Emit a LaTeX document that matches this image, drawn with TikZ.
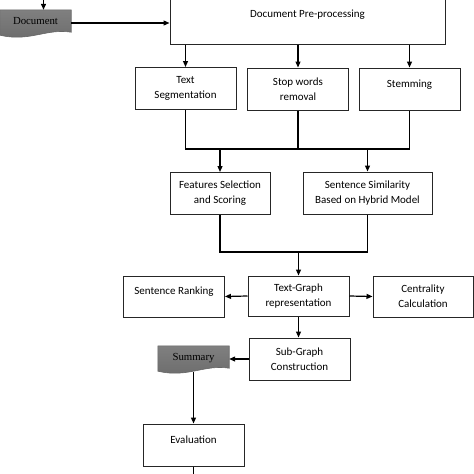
\documentclass[tikz,border=0pt]{standalone}
\usepackage{fontspec}
\setmainfont{Carlito}
\newfontfamily\paperfont{Liberation Serif}
\usetikzlibrary{calc, arrows.meta, backgrounds}

\tikzset{
  stepbox/.style={draw=black!85, line width=1pt, fill=white, minimum width=101pt,
    minimum height=42pt, align=center, inner sep=2pt,
    font=\fontsize{11}{15}\selectfont},
  oneline/.style={text depth=11pt},
  paper/.style={minimum width=71pt, minimum height=26pt, inner sep=0pt,
    text depth=4pt, font=\paperfont\fontsize{10.8}{12}\selectfont},
  papershade/.style={draw=black!60, line width=0.6pt, top color=black!50,
    middle color=black!32, bottom color=black!58},
  flow/.style={-{Triangle[length=6pt,width=5pt]}, line width=1.2pt},
  bus/.style={line width=1.2pt}
}

\begin{document}
\begin{tikzpicture}[x=1pt, y=-1pt]
  \useasboundingbox (0,0) rectangle (474,474);

  % boxes
  \node[stepbox, minimum width=275pt, minimum height=58pt] (pre) at (307.5,15) {Document Pre-processing};
  \node[stepbox] (seg) at (185.5,88.5) {Text\\Segmentation};
  \node[stepbox] (stop) at (298,89) {Stop words\\removal};
  \node[stepbox, oneline] (stem) at (409.5,89) {Stemming};
  \node[stepbox, minimum width=100pt] (feat) at (220,193.5) {Features Selection\\and Scoring};
  \node[stepbox, minimum width=129pt] (sim) at (367.5,193) {Sentence Similarity\\Based on Hybrid Model};
  \node[stepbox, minimum height=40pt] (graph) at (298.5,296) {Text-Graph\\representation};
  \node[stepbox, oneline, minimum height=41pt] (rank) at (174,296.5) {Sentence Ranking};
  \node[stepbox, minimum width=100pt, minimum height=41pt] (cent) at (423,296.5) {Centrality\\Calculation};
  \node[stepbox] (sub) at (299.5,359) {Sub-Graph\\Construction};
  \node[stepbox, oneline] (eval) at (193.5,445) {Evaluation};

  % paper shapes
  \node[paper] (doc) at (35.5,23) {Document};
  \node[paper] (summ) at (193.5,359) {Summary};
  \begin{scope}[on background layer]
    \foreach \p in {doc, summ}
      \path[papershade] (\p.north west) -- (\p.north east)
        -- ($(\p.south east)+(0,-4)$)
        .. controls ($(\p.south east)+(-25,-8)$) and ($(\p.south west)+(30,6)$)
        .. ($(\p.south west)+(0,-1)$) -- cycle;
  \end{scope}

  \coordinate (in) at (43.5,-5);
  \coordinate (out) at (193.5,480);
  \coordinate (bus1) at (297,149);
  \coordinate (bus2) at (297,252);

  % connectors
  \draw[flow] (in) -- (in |- doc.north);
  \draw[flow] (doc.east) -- (doc.east -| pre.west);
  \foreach \b in {seg, stop, stem}
    \draw[flow] (\b.north |- pre.south) -- (\b.north);
  \draw[bus] (seg.south) -- (seg.south |- bus1) -- (stem.south |- bus1) -- (stem.south);
  \draw[bus] (stop.south) -- (stop.south |- bus1);
  \draw[flow] (feat.north |- bus1) -- (feat.north);
  \draw[flow] (sim.north |- bus1) -- (sim.north);
  \draw[bus] (feat.south) -- (feat.south |- bus2) -- (sim.south |- bus2) -- (sim.south);
  \draw[flow] (graph.north |- bus2) -- (graph.north);
  \draw[flow] (graph.west) -- (rank.east);
  \draw[flow] (graph.east) -- (cent.west);
  \draw[flow] (graph.south) -- (graph.south |- sub.north);
  \draw[flow] (sub.west) -- (sub.west -| summ.east);
  \draw[flow] (summ.south) -- (eval.north);
  \draw[bus] (eval.south) -- (out);
\end{tikzpicture}
\end{document}
